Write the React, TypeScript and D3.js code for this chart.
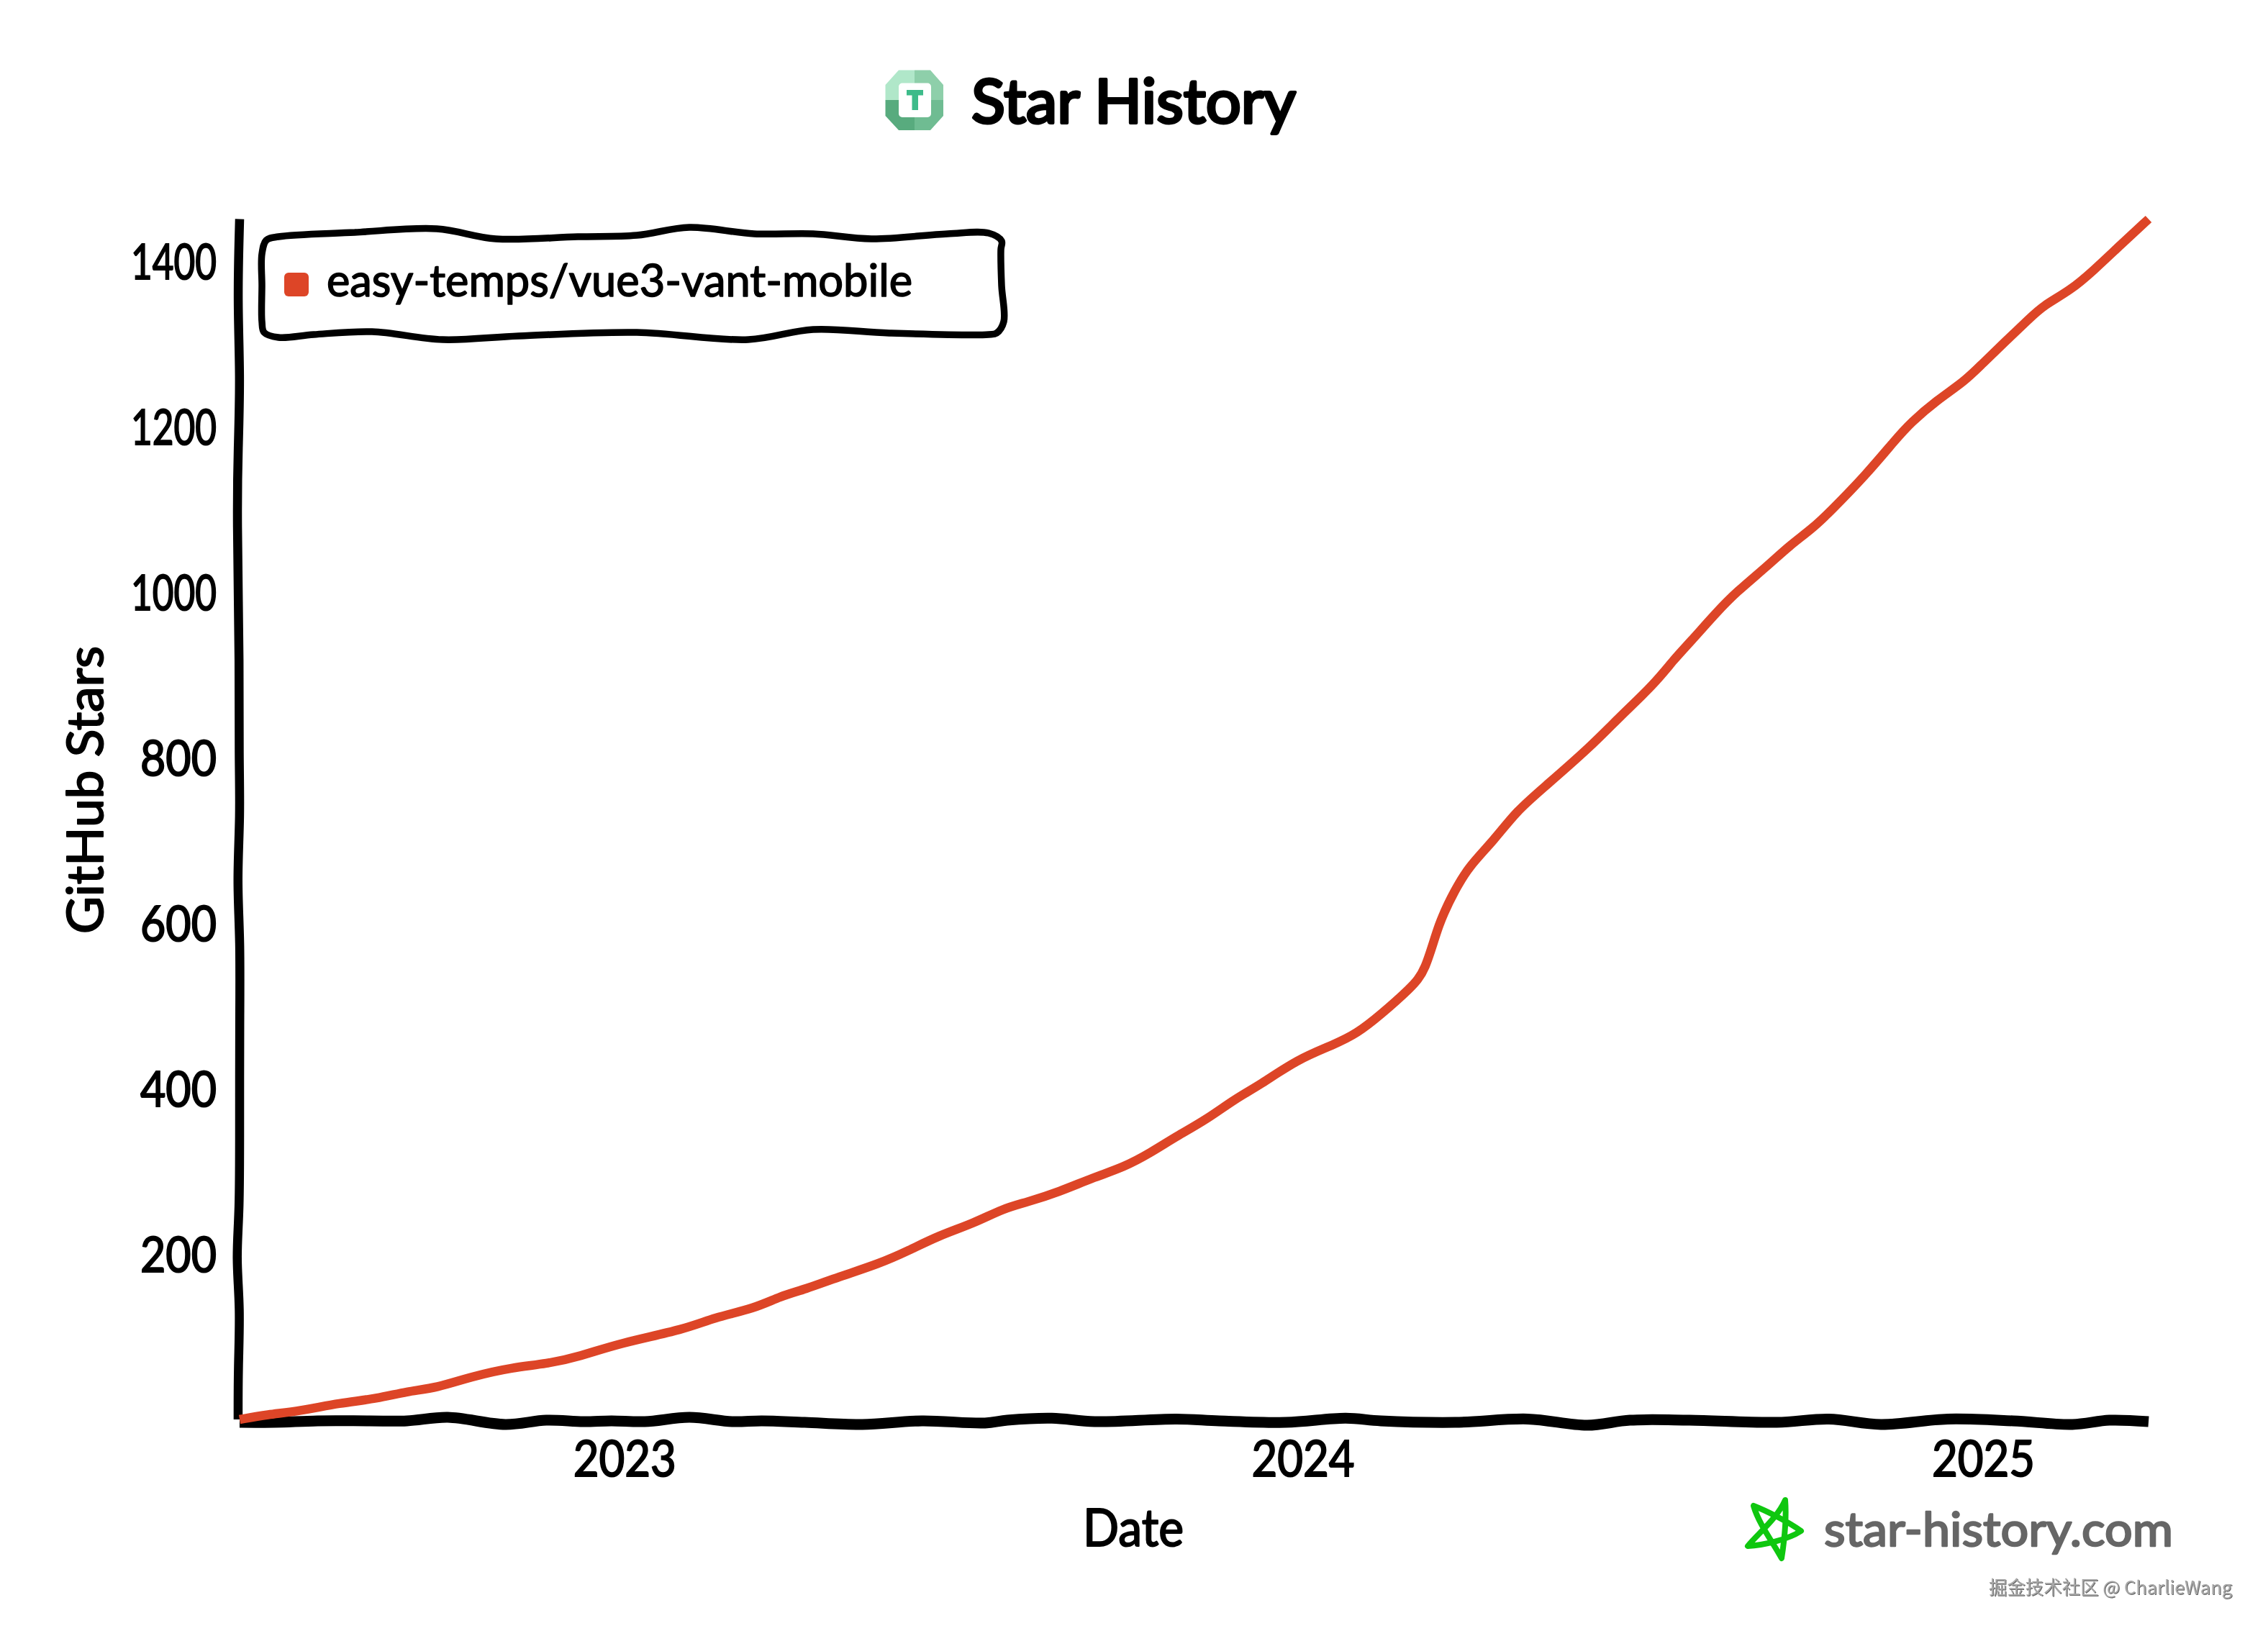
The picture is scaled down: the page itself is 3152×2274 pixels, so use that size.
import { useEffect, useRef } from "react";
import * as d3 from "d3";

// star counts
const starDates = [
  "2022-06-08", "2022-06-23", "2022-07-10", "2022-08-01", "2022-08-21", "2022-09-06", "2022-09-22",
  "2022-10-11", "2022-11-02", "2022-11-20", "2022-12-08", "2022-12-29", "2023-02-03", "2023-02-18",
  "2023-03-12", "2023-03-26", "2023-04-08", "2023-04-26", "2023-05-18", "2023-06-03", "2023-06-19",
  "2023-07-08", "2023-07-24", "2023-08-05", "2023-08-23", "2023-09-10", "2023-09-27", "2023-10-11",
  "2023-10-25", "2023-11-10", "2023-11-26", "2023-12-09", "2023-12-29", "2024-01-18", "2024-01-30",
  "2024-02-12", "2024-02-28", "2024-03-07", "2024-03-14", "2024-03-23", "2024-03-30", "2024-04-13",
  "2024-04-25", "2024-05-10", "2024-06-04", "2024-06-20", "2024-07-08", "2024-07-19", "2024-07-27",
  "2024-08-11", "2024-08-21", "2024-09-07", "2024-09-18", "2024-10-01", "2024-10-10", "2024-10-30",
  "2024-11-15", "2024-11-23", "2024-12-07", "2024-12-22", "2024-12-31", "2025-01-12", "2025-01-26",
  "2025-02-02", "2025-02-17", "2025-03-01", "2025-03-16", "2025-03-31",
];
const starCounts = [
  0, 6, 10, 20, 25, 34, 38, 52, 63, 67, 76, 92, 109, 123, 134, 149, 157, 172, 188, 204, 222, 237, 255,
  262, 275, 292, 305, 322, 342, 362, 388, 404, 435, 453, 466, 489, 521, 541, 600, 640, 667, 700, 735,
  764, 813, 850, 888, 919, 938, 976, 999, 1031, 1054, 1076, 1095, 1141, 1184, 1204, 1231, 1254, 1274,
  1300, 1330, 1345, 1364, 1387, 1419, 1450,
];

const yTicks = [200, 400, 600, 800, 1000, 1200, 1400];
const xTickYears = ["2023-01-01", "2024-01-01", "2025-01-01"];
const seriesName = "easy-temps/vue3-vant-mobile";

// hand drawn axis lines: days since the first date / stars along the x axis, stars / day drift along the y axis
const bottomAxisDays = [
  0, 19, 42, 70, 90, 112, 143, 165, 185, 200, 218, 242, 265, 281, 304, 335, 367, 401, 413, 437, 460,
  504, 527, 563, 595, 614, 654, 693, 725, 748, 780, 827, 855, 883, 919, 954, 986, 1006, 1027,
];
const bottomAxisStars = [
  -3.5, -3.5, -1.7, -1.7, -1.7, 2.5, -6, -0.9, -2.6, -1.7, -2.6, 2.5, -2.6, -1.7, -3.5, -6, -1.7,
  -4.3, -0.9, 1.5, -2.6, 0.5, -1.7, -3.5, 1.5, -1.7, -3.5, 0.5, -7, -0.9, -0.9, -3.5, 0.5, -6, 0.5, -1.7,
  -6, -0.9, -2.6,
];
const leftAxisStars = [1450, 1350, 1260, 1170, 1100, 900, 800, 730, 650, 580, 480, 350, 250, 195, 135, 63, 0];
const leftAxisDrift = [0, -1.2, 0.4, -0.8, -1.5, 0, -0.4, 0.4, -1.5, 0.4, 0, 0, 0, -2, 0.4, -0.8, -0.8];

const FONT = "Lato, 'Noto Sans', sans-serif";
const LINE_COLOR = "#dd4527";
const W = 3152;
const H = 2274;

const dates = starDates.map((d) => new Date(d + "T00:00:00Z"));

export default function App() {
  const svgRef = useRef<SVGSVGElement>(null);

  useEffect(() => {
    if (!svgRef.current) return;
    const svg = d3.select(svgRef.current);
    svg.selectAll("*").remove();

    const x = d3
      .scaleUtc()
      .domain([dates[0], dates[dates.length - 1]])
      .range([333, 2986]);
    const y = d3.scaleLinear().domain([0, 1450]).range([1973, 304.5]);

    const dayAfterStart = (n: number) => new Date(dates[0].getTime() + n * 86400000);

    // axis labels
    const xAxis = d3
      .axisBottom(x)
      .tickValues(xTickYears.map((d) => new Date(d + "T00:00:00Z")))
      .tickSize(0)
      .tickFormat((d) => String((d as Date).getUTCFullYear()));
    const gx = svg.append("g").call(xAxis);
    gx.select(".domain").remove();
    gx.selectAll("text")
      .attr("y", 2052)
      .attr("dy", null)
      .attr("fill", "#000")
      .attr("font-family", FONT)
      .attr("font-size", 70)
      .attr("stroke", "#000")
      .attr("stroke-width", 2)
      .attr("textLength", 143)
      .attr("lengthAdjust", "spacingAndGlyphs");

    const yAxis = d3.axisLeft(y).tickValues(yTicks).tickSize(0).tickFormat(d3.format("d"));
    const gy = svg.append("g").call(yAxis);
    gy.select(".domain").remove();
    gy.selectAll("text")
      .attr("x", 301)
      .attr("dy", 25)
      .attr("fill", "#000")
      .attr("font-family", FONT)
      .attr("font-size", 68)
      .attr("stroke", "#000")
      .attr("stroke-width", 2)
      .attr("text-anchor", "end")
      .attr("textLength", (d) => ((d as number) >= 1000 ? 119 : 106))
      .attr("lengthAdjust", "spacingAndGlyphs");

    // hand drawn axes
    const bottomLine = d3
      .line<number>()
      .x((d) => x(dayAfterStart(d)))
      .y((_, i) => y(bottomAxisStars[i]))
      .curve(d3.curveCatmullRom);
    svg
      .append("path")
      .attr("d", bottomLine(bottomAxisDays))
      .attr("fill", "none")
      .attr("stroke", "#000")
      .attr("stroke-width", 15);

    const leftLine = d3
      .line<number>()
      .x((_, i) => x(dayAfterStart(leftAxisDrift[i])))
      .y((d) => y(d))
      .curve(d3.curveBasis);
    svg
      .append("path")
      .attr("d", leftLine(leftAxisStars))
      .attr("fill", "none")
      .attr("stroke", "#000")
      .attr("stroke-width", 12.5);

    // the series
    const starLine = d3
      .line<number>()
      .x((_, i) => x(dates[i]))
      .y((d) => y(d))
      .curve(d3.curveBasis);
    svg
      .append("path")
      .attr("d", starLine(starCounts))
      .attr("fill", "none")
      .attr("stroke", LINE_COLOR)
      .attr("stroke-width", 12.5)
      .attr("stroke-linejoin", "round");

    const addText = (
      s: string,
      tx: number,
      ty: number,
      size: number,
      len: number,
      color = "#000",
      sw = 2,
    ) =>
      svg
        .append("text")
        .text(s)
        .attr("x", tx)
        .attr("y", ty)
        .attr("font-family", FONT)
        .attr("font-size", size)
        .attr("fill", color)
        .attr("stroke", color)
        .attr("stroke-width", sw)
        .attr("stroke-linejoin", "round")
        .attr("textLength", len)
        .attr("lengthAdjust", "spacingAndGlyphs");

    // axis titles
    addText("Date", 1505, 2149, 72, 140);
    addText("GitHub Stars", 0, 0, 70, 400).attr("transform", "translate(143,1298) rotate(-90)");

    // legend box
    const legendOutline: [number, number][] = [
      [387, 329], [493, 323], [607, 318], [689, 332], [803, 329], [885, 327], [958, 316], [1048, 325],
      [1130, 325], [1211, 332], [1317, 325], [1374, 324], [1392, 335], [1391, 347], [1392, 397],
      [1395, 447], [1385, 463], [1374, 465], [1236, 463], [1130, 458], [1040, 472], [885, 462],
      [721, 467], [615, 472], [517, 461], [436, 465], [387, 469], [367, 462], [364, 447], [364, 397],
      [364, 353], [370, 334],
    ];
    svg
      .append("path")
      .attr("d", d3.line().curve(d3.curveCatmullRomClosed)(legendOutline))
      .attr("fill", "#fff")
      .attr("stroke", "#000")
      .attr("stroke-width", 9.5);
    svg
      .append("rect")
      .attr("x", 395)
      .attr("y", 379)
      .attr("width", 34)
      .attr("height", 33)
      .attr("rx", 6)
      .attr("fill", LINE_COLOR);
    addText(seriesName, 454, 412, 62, 814, "#000", 1.6);

    // title with logo
    const logo = svg.append("g");
    const quadrants: [string, string][] = [
      ["M1271,97.5 L1249,97.5 L1230.5,118 L1230.5,139 L1271,139 Z", "#b0e7c9"],
      ["M1271,97.5 L1293,97.5 L1311,118 L1311,139 L1271,139 Z", "#8ecfaa"],
      ["M1271,181 L1249,181 L1230.5,161 L1230.5,139 L1271,139 Z", "#58ab7e"],
      ["M1271,181 L1293,181 L1311,161 L1311,139 L1271,139 Z", "#6fbc92"],
    ];
    quadrants.forEach(([d, fill]) => logo.append("path").attr("d", d).attr("fill", fill));
    logo
      .append("rect")
      .attr("x", 1249)
      .attr("y", 115.5)
      .attr("width", 45)
      .attr("height", 47.5)
      .attr("rx", 5)
      .attr("fill", "#fff");
    logo.append("rect").attr("x", 1260).attr("y", 125).attr("width", 23).attr("height", 7.5).attr("fill", "#3dbb8a");
    logo.append("rect").attr("x", 1267.5).attr("y", 125).attr("width", 8.5).attr("height", 28).attr("fill", "#3dbb8a");
    addText("Star History", 1350, 171, 86, 451, "#000", 4);

    // footer
    svg
      .append("path")
      .attr("d", "M2481,2085 C2470,2110 2445,2130 2429,2149 C2450,2148 2485,2140 2503,2128 C2485,2115 2455,2100 2437,2093 C2445,2120 2465,2145 2476,2166 C2480,2140 2483,2110 2481,2085 Z")
      .attr("fill", "none")
      .attr("stroke", "#0fc70f")
      .attr("stroke-width", 8)
      .attr("stroke-linejoin", "round");
    addText("star-history.com", 2535, 2149, 66, 485, "#666", 2.4);
    svg
      .append("text")
      .text("掘金技术社区 @ CharlieWang")
      .attr("x", 2764)
      .attr("y", 2216)
      .attr("font-family", "'Noto Sans CJK SC', sans-serif")
      .attr("font-size", 26)
      .attr("fill", "#a8a8a8")
      .attr("textLength", 338)
      .attr("lengthAdjust", "spacingAndGlyphs")
      .style("filter", "drop-shadow(1px 1px 0 #666)");
  }, []);

  return (
    <svg
      ref={svgRef}
      width={W}
      height={H}
      viewBox={`0 0 ${W} ${H}`}
      style={{ position: "absolute", left: 0, top: 0, background: "#fff" }}
    />
  );
}
